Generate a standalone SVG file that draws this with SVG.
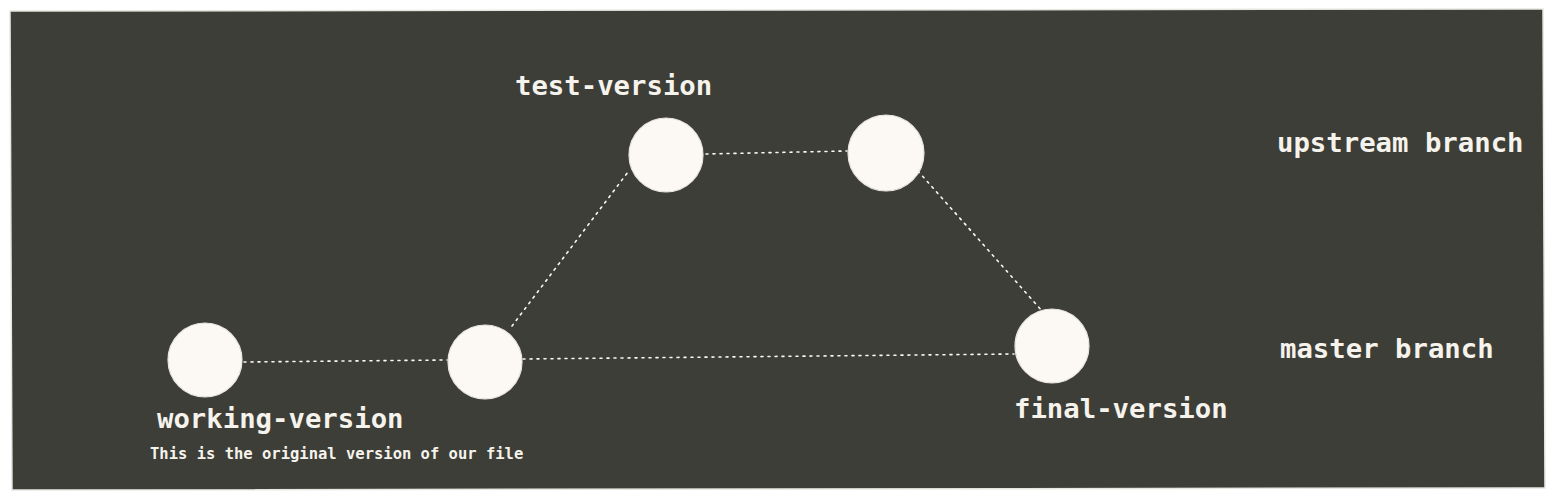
<svg xmlns="http://www.w3.org/2000/svg" width="1553" height="502" viewBox="0 0 1553 502">
<style>
.bg{fill:#3c3e37;stroke:#e8e6e0;stroke-width:1.5}
.node{fill:#fcf8f3;stroke:#e9e6df;stroke-width:1.2}
.edge{stroke:#fcf8f3;stroke-width:1.6;stroke-dasharray:2 5;fill:none;stroke-linecap:round}
.lbl{font-family:"DejaVu Sans Mono","Liberation Mono",monospace;font-weight:bold;fill:#f6f2ec;font-size:27.3px}
.small{font-family:"DejaVu Sans Mono","Liberation Mono",monospace;font-weight:bold;fill:#f6f2ec;font-size:15.5px}
</style>
<rect width="1553" height="502" fill="#ffffff"/>
<polygon class="bg" points="10,11 1543,9 1545,488 12,490"/>
<g id="connectors">
<line class="edge" x1="244" y1="362" x2="447" y2="360"/>
<line class="edge" x1="523" y1="359" x2="1014" y2="354"/>
<line class="edge" x1="512" y1="326" x2="628" y2="172"/>
<line class="edge" x1="706" y1="154" x2="847" y2="151"/>
<line class="edge" x1="918" y1="171" x2="1043" y2="312"/>
</g>
<g id="working-version">
<circle class="node" cx="205" cy="360" r="37"/>
<text class="lbl" x="157" y="428">working-version</text>
<text class="small" x="150" y="459">This is the original version of our file</text>
</g>
<g id="master-commit">
<circle class="node" cx="485" cy="362" r="37"/>
</g>
<g id="test-version">
<circle class="node" cx="666" cy="155" r="37"/>
<text class="lbl" x="515" y="95">test-version</text>
</g>
<g id="upstream-commit">
<circle class="node" cx="886" cy="153" r="38"/>
</g>
<g id="final-version">
<circle class="node" cx="1052" cy="346" r="37"/>
<text class="lbl" x="1014" y="418">final-version</text>
</g>
<g id="upstream-branch">
<text class="lbl" x="1277" y="152">upstream branch</text>
</g>
<g id="master-branch">
<text class="lbl" x="1280" y="358">master branch</text>
</g>
</svg>
